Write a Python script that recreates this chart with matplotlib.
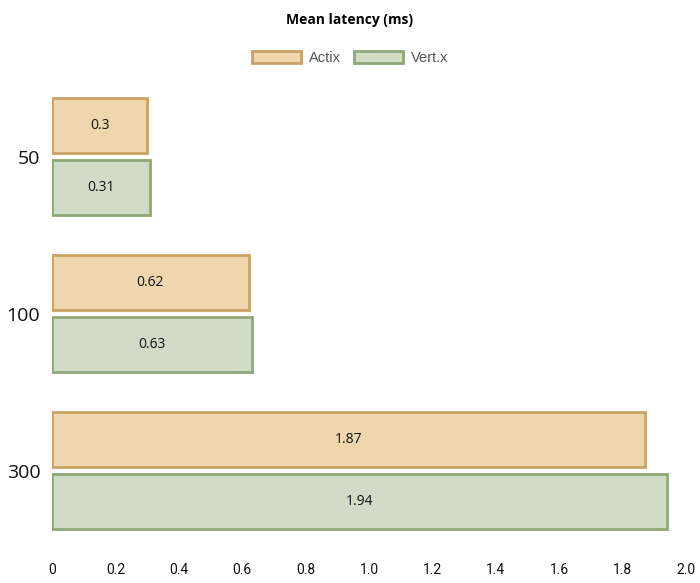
import numpy as np
import matplotlib.pyplot as plt
from matplotlib.patches import Patch

plt.rcParams['font.family'] = ['Open Sans', 'DejaVu Sans']

categories = ["50", "100", "300"]
actix = [0.3, 0.62, 1.87]
vertx = [0.31, 0.63, 1.94]
x_ticks = [0, 0.2, 0.4, 0.6, 0.8, 1.0, 1.2, 1.4, 1.6, 1.8, 2.0]
x_tick_labels = ["0", "0.2", "0.4", "0.6", "0.8", "1.0", "1.2", "1.4", "1.6", "1.8", "2.0"]

actix_fill, actix_edge = "#efd6ae", "#c9a264"
vertx_fill, vertx_edge = "#d0dcc6", "#8ea879"

fig = plt.figure(figsize=(7, 5.83), dpi=100)
ax = fig.add_axes([52 / 700, 1 - 549 / 583, 634 / 700, 471 / 583])

y = np.arange(len(categories))
h = 0.35
b1 = ax.barh(y - 0.2, actix, height=h, color=actix_fill, edgecolor=actix_edge, linewidth=2)
b2 = ax.barh(y + 0.2, vertx, height=h, color=vertx_fill, edgecolor=vertx_edge, linewidth=2)

for bars, vals in ((b1, actix), (b2, vertx)):
    for rect, v in zip(bars, vals):
        ax.text(rect.get_width() / 2, rect.get_y() + rect.get_height() / 2, f"{v:g}",
                ha="center", va="center", fontsize=10, color="#111111")

ax.set_xlim(0, 2.0)
ax.set_ylim(2.5, -0.5)
ax.set_yticks(y)
ax.set_yticklabels(categories, fontsize=14)
ax.set_xticks(x_ticks)
ax.set_xticklabels(x_tick_labels, fontsize=10, family=['Roboto', 'DejaVu Sans'])
ax.tick_params(axis="both", length=0, colors="#111111")
ax.tick_params(axis="x", pad=10)
ax.tick_params(axis="y", pad=8.5)
for s in ax.spines.values():
    s.set_visible(False)

fig.text(0.5, 1 - 20 / 583, "Mean latency (ms)", ha="center", va="center",
         fontsize=10, fontweight="bold")

handles = [Patch(facecolor=actix_fill, edgecolor=actix_edge, linewidth=2, label="Actix"),
           Patch(facecolor=vertx_fill, edgecolor=vertx_edge, linewidth=2, label="Vert.x")]
leg = fig.legend(handles=handles, loc="center", bbox_to_anchor=(0.5, 1 - 58 / 583), ncol=2,
                 frameon=False, handlelength=3.4, handleheight=0.9,
                 columnspacing=0.9, handletextpad=0.5, labelcolor="#555555",
                 prop={'family': ['Liberation Sans', 'DejaVu Sans'], 'size': 10.5})

fig.savefig("out.png", dpi=100)
